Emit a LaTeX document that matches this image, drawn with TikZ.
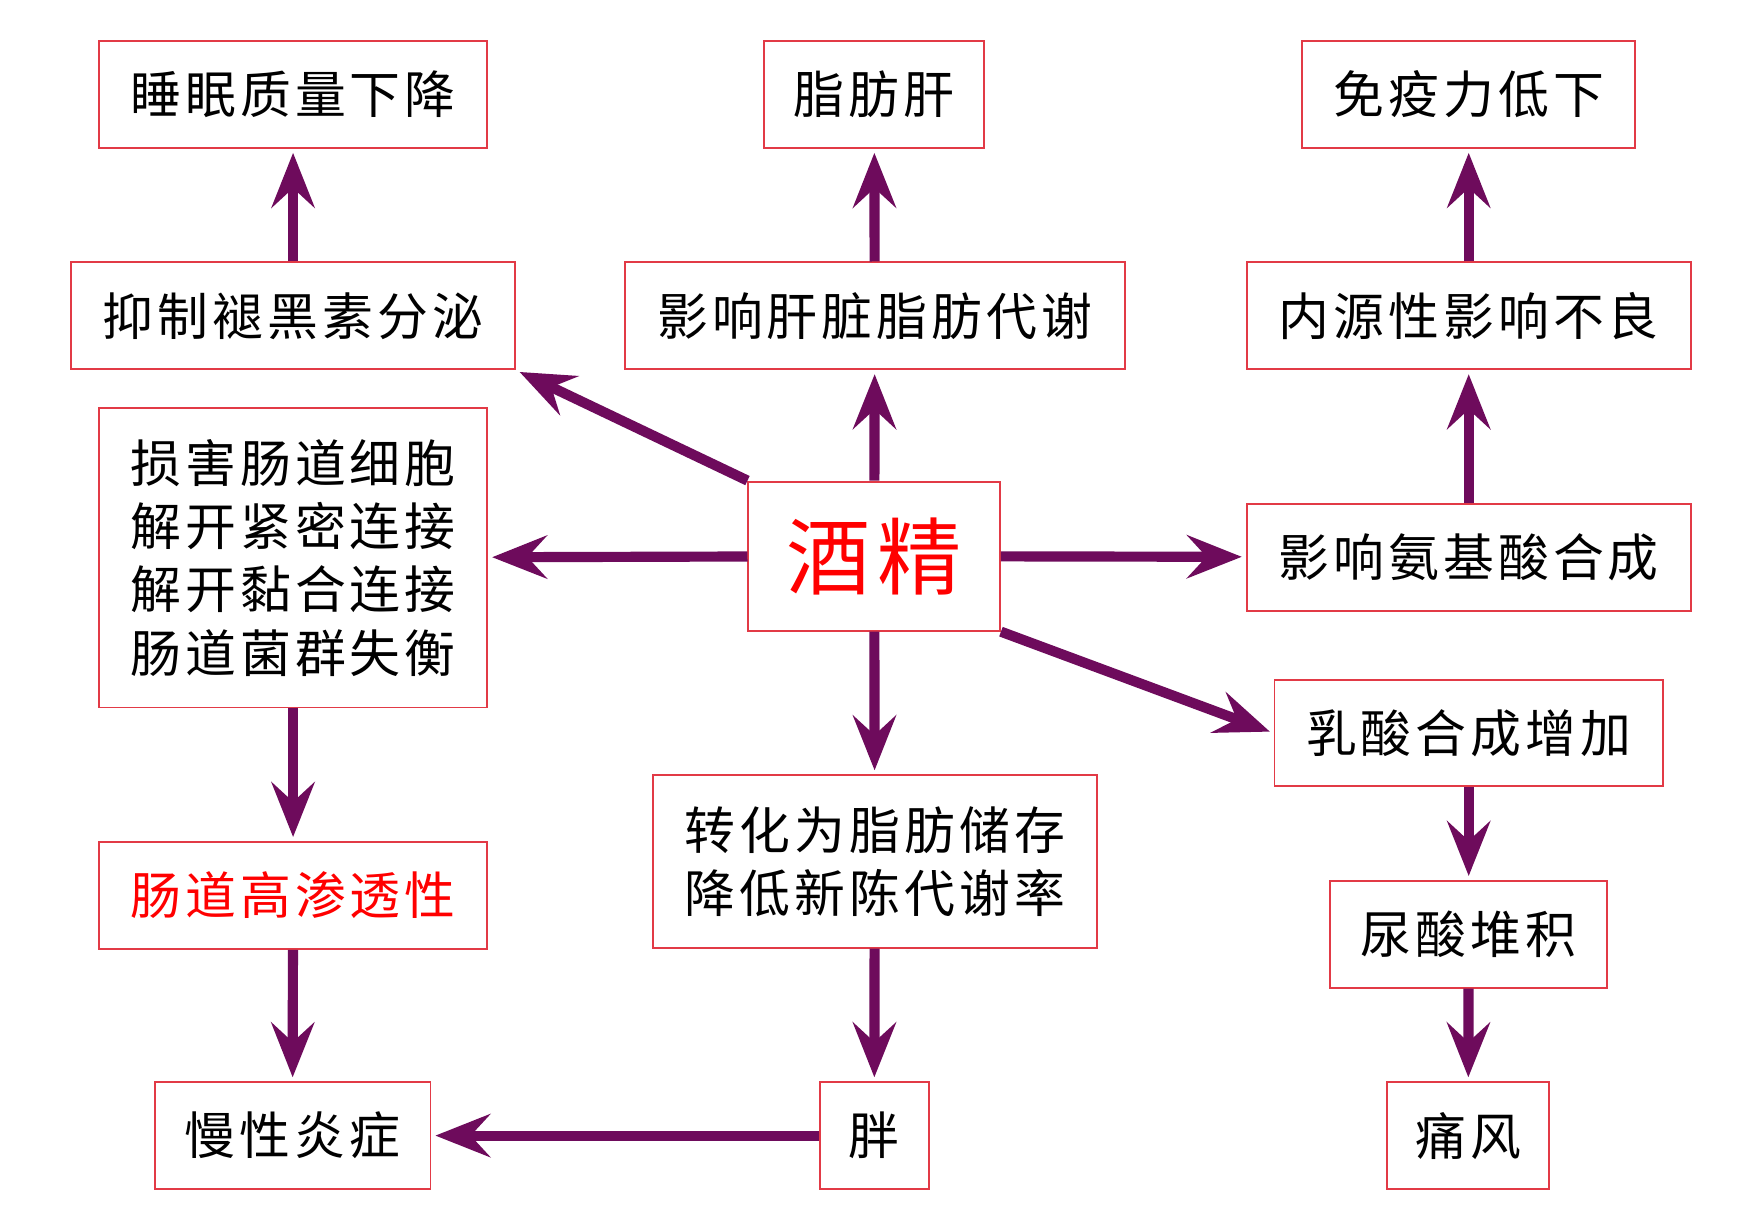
\documentclass[tikz,border=0pt]{standalone}
\usepackage{fontspec}
\setmainfont{Noto Sans CJK SC}[LetterSpace=8]
\usetikzlibrary{arrows.meta}
\definecolor{arr}{HTML}{6E0B5C}
\definecolor{bd}{HTML}{E23A46}
\begin{document}
\begin{tikzpicture}[x=0.01cm,y=-0.01cm,
  box/.style={draw=bd,line width=0.5pt,inner sep=0pt,align=center,font=\fontsize{13pt}{16.2pt}\selectfont},
  ar/.style={draw=arr,line width=2.6pt,-{Stealth[length=14pt,width=11pt,inset=5pt]},shorten >=1pt}]
\useasboundingbox (0,0) rectangle (1568,1090);
\fill[white] (0,0) rectangle (1568,1090);
\node[box,minimum width=3.49cm,minimum height=0.96cm] (sm) at (263.5,85) {睡眠质量下降};
\node[box,minimum width=1.98cm,minimum height=0.96cm] (zfg) at (786,85) {脂肪肝};
\node[box,minimum width=2.99cm,minimum height=0.96cm] (my) at (1320.5,85) {免疫力低下};
\node[box,minimum width=3.99cm,minimum height=0.96cm] (yz) at (263.5,284) {抑制褪黑素分泌};
\node[box,minimum width=4.49cm,minimum height=0.96cm] (gz) at (786.5,284) {影响肝脏脂肪代谢};
\node[box,minimum width=3.99cm,minimum height=0.96cm] (ny) at (1320.5,284) {内源性影响不良};
\node[box,minimum width=3.49cm,minimum height=2.69cm] (sh) at (263.5,501.5) {损害肠道细胞\\解开紧密连接\\解开黏合连接\\肠道菌群失衡};
\node[box,minimum width=2.26cm,minimum height=1.34cm,text=red,font=\fontsize{21.5pt}{24pt}\selectfont] (jj) at (786,500) {酒精};
\node[box,minimum width=3.99cm,minimum height=0.96cm] (aj) at (1320.5,501) {影响氨基酸合成};
\node[box,minimum width=3.49cm,minimum height=0.96cm] (rs) at (1320.5,659) {乳酸合成增加};
\node[box,minimum width=3.49cm,minimum height=0.96cm,text=red] (ct) at (263.5,805) {肠道高渗透性};
\node[box,minimum width=3.99cm,minimum height=1.55cm] (zh) at (786.5,774.5) {转化为脂肪储存\\降低新陈代谢率};
\node[box,minimum width=2.49cm,minimum height=0.96cm] (ns) at (1320.5,840) {尿酸堆积};
\node[box,minimum width=2.48cm,minimum height=0.96cm] (mx) at (263,1021) {慢性炎症};
\node[box,minimum width=0.98cm,minimum height=0.96cm] (pang) at (786,1021) {胖};
\node[box,minimum width=1.46cm,minimum height=0.96cm] (tf) at (1320,1021) {痛风};
\draw[ar] (yz) -- (sm);
\draw[ar] (gz) -- (zfg);
\draw[ar] (ny) -- (my);
\draw[ar] (jj) -- (gz);
\draw[ar] (aj) -- (ny);
\draw[ar] (jj) -- (aj);
\draw[ar] (jj) -- (sh);
\draw[ar] (jj.north west) -- (yz.south east);
\draw[ar] (jj.south east) -- (rs.west);
\draw[ar] (jj) -- (zh);
\draw[ar] (sh) -- (ct);
\draw[ar] (ct) -- (mx);
\draw[ar] (zh) -- (pang);
\draw[ar] (pang) -- (mx);
\draw[ar] (rs) -- (ns);
\draw[ar] (ns) -- (tf);
\end{tikzpicture}
\end{document}
